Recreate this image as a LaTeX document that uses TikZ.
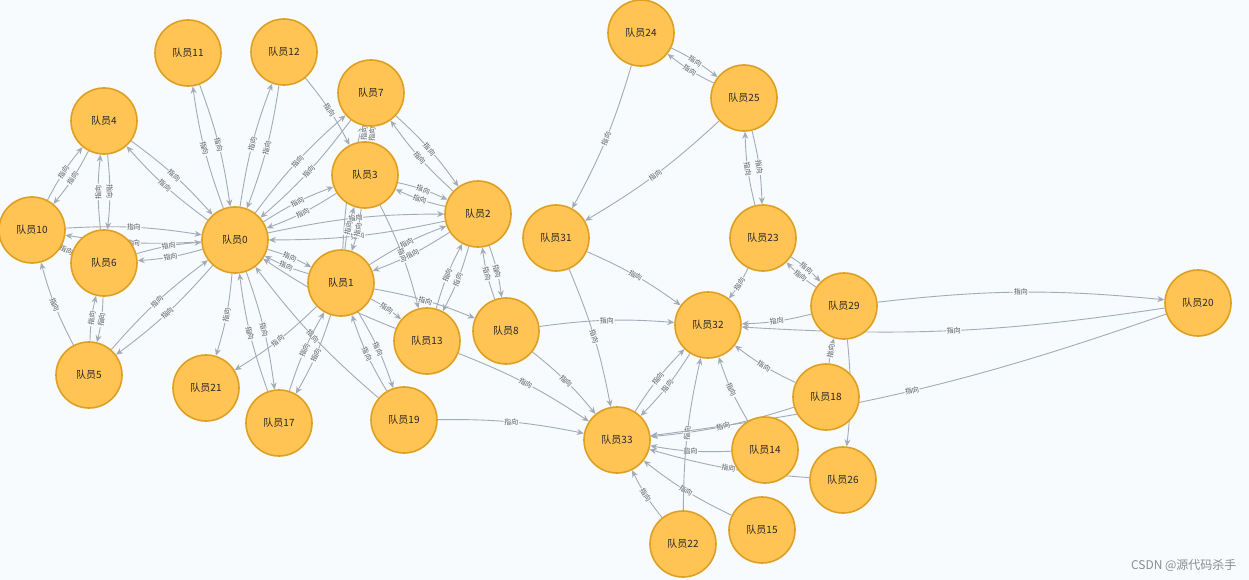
\documentclass[tikz,border=0pt]{standalone}
\usepackage{fontspec}
\setmainfont{Noto Sans CJK SC}
\usetikzlibrary{backgrounds,arrows.meta}
\definecolor{bg}{HTML}{F7FBFE}
\definecolor{nf}{HTML}{FFC454}
\definecolor{nd}{HTML}{DDA022}
\definecolor{ec}{HTML}{A5ABB6}
\tikzset{
  mem/.style={circle,fill=nf,draw=nd,line width=1.6pt,minimum size=66pt,inner sep=0pt,font=\fontsize{10}{12}\selectfont,text=black!85},
  e/.style={draw=ec,line width=0.9pt,-{Stealth[length=7pt,width=6pt]}},
  lab/.style={fill=bg,inner sep=0.6pt,font=\fontsize{7}{8}\selectfont,text=black!65,sloped}
}
\begin{document}
\begin{tikzpicture}[x=1pt,y=-1pt]
\useasboundingbox (0,0) rectangle (1249,580);
\foreach \n/\x/\y in {0/235/240,1/341/283,2/478/214,3/365/175,4/104/121,5/89/375,6/104/263,7/371/93,8/506/331,10/32/230,11/188/53,12/284/52,13/427/341,14/765/450,15/762/530,17/279/423,18/826/397,19/404/420,20/1198/303,21/206/388,22/683/544,23/763/238,24/641/33,25/744/98,26/843/480,29/844/306,31/556/238,32/708/325,33/617/440}
  \node[mem] (n\n) at (\x,\y) {队员\n};
\node[anchor=south east,font=\fontsize{12}{14}\selectfont,text=black!45] (wm) at (1240,575) {CSDN @源代码杀手};
\begin{pgfonlayer}{background}
\fill[bg] (0,0) rectangle (1249,580);
\foreach \a/\b in {0/11,11/0,0/12,12/0,0/7,7/0,0/3,3/0,0/2,2/0,0/1,1/0,4/0,0/4,10/0,0/10,6/0,0/6,5/0,0/5,0/21,17/0,0/17,19/0,13/0,
  4/10,10/4,4/6,6/4,6/10,5/10,5/6,6/5,
  1/7,1/3,3/1,1/2,2/1,1/13,1/19,19/1,1/17,17/1,1/21,3/7,7/3,3/2,2/3,3/13,7/2,2/7,12/3,2/13,13/2,2/8,8/2,1/8,
  31/32,31/33,24/31,25/31,24/25,25/24,25/23,23/25,23/29,29/23,23/32,29/32,29/20,20/32,29/26,18/29,18/32,18/33,
  14/32,14/33,33/32,32/33,15/33,22/33,22/32,26/33,20/33,8/32,8/33,13/33,19/33}
  \draw[e] (n\a) to[bend left=6] node[lab]{指向} (n\b);
\end{pgfonlayer}
\end{tikzpicture}
\end{document}
